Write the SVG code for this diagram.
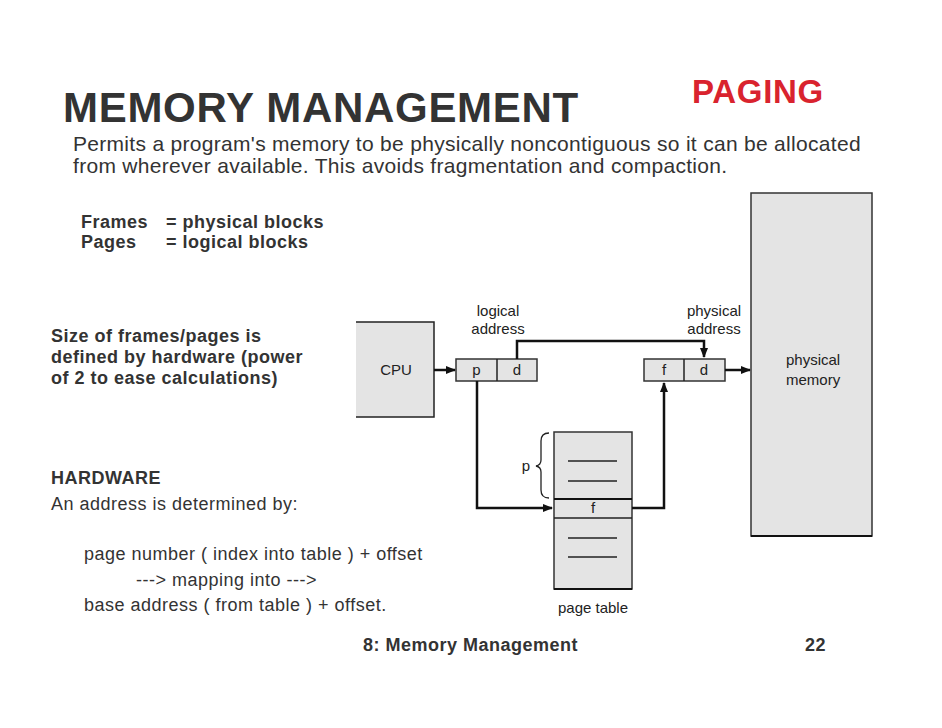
<svg xmlns="http://www.w3.org/2000/svg" width="942" height="728" viewBox="0 0 942 728">
<style>
text{font-family:"Liberation Sans",Arial,sans-serif;fill:#333}
.b{font-weight:bold}
.body{font-size:21px;letter-spacing:0.3px}
.s18{font-size:18px;letter-spacing:0.5px}
.lab{font-size:15px;fill:#222}
.box{fill:#e4e4e4;stroke:#333;stroke-width:1.5}
.edge{fill:none;stroke:#111;stroke-width:2.5}
.thin{fill:none;stroke:#222;stroke-width:1.5}
</style>
<defs>
<marker id="ah" markerWidth="10" markerHeight="8" refX="9" refY="4" orient="auto" markerUnits="userSpaceOnUse">
<path d="M0,0 L10,4 L0,8 z" fill="#111"/>
</marker>
</defs>
<rect width="942" height="728" fill="#fff"/>

<g id="title">
<text x="63" y="122" class="b" style="font-size:42px;letter-spacing:0.7px">MEMORY MANAGEMENT</text>
<text x="692" y="103" class="b" style="font-size:33px;letter-spacing:0.7px;fill:#d9232e">PAGING</text>
</g>
<g id="intro">
<text x="73" y="151" class="body">Permits a program's memory to be physically noncontiguous so it can be allocated</text>
<text x="73" y="173" class="body">from wherever available. This avoids fragmentation and compaction.</text>
</g>
<g id="defs-text">
<text x="81" y="228" class="b s18">Frames</text>
<text x="166" y="228" class="b s18">= physical blocks</text>
<text x="81" y="248" class="b s18">Pages</text>
<text x="166" y="248" class="b s18">= logical blocks</text>
</g>
<g id="size-text">
<text x="51" y="342" class="b s18">Size of frames/pages is</text>
<text x="51" y="363" class="b s18">defined by hardware (power</text>
<text x="51" y="384" class="b s18">of 2 to ease calculations)</text>
</g>
<g id="hardware-text">
<text x="51" y="484" class="b s18">HARDWARE</text>
<text x="51" y="510" class="s18">An address is determined by:</text>
<text x="84" y="560" class="s18">page number ( index into table ) + offset</text>
<text x="136" y="586" class="s18">---&gt; mapping into ---&gt;</text>
<text x="84" y="611" class="s18">base address ( from table ) + offset.</text>
</g>
<g id="footer">
<text x="363" y="651" class="b s18">8: Memory Management</text>
<text x="826" y="651" class="b s18" text-anchor="end">22</text>
</g>

<g id="cpu">
<rect x="356" y="322" width="78" height="95" fill="#e4e4e4"/>
<path d="M356,322 H434 V417 H356" class="thin"/>
<text x="396" y="375" class="lab" text-anchor="middle">CPU</text>
</g>

<g id="logical-address">
<rect x="456" y="359" width="81" height="22" class="box"/>
<line x1="497" y1="359" x2="497" y2="381" class="thin"/>
<text x="476.5" y="375" class="lab" text-anchor="middle">p</text>
<text x="517" y="375" class="lab" text-anchor="middle">d</text>
<text x="498" y="316" class="lab" text-anchor="middle">logical</text>
<text x="498" y="334" class="lab" text-anchor="middle">address</text>
</g>

<g id="physical-address">
<rect x="644" y="359" width="81" height="22" class="box"/>
<line x1="684" y1="359" x2="684" y2="381" class="thin"/>
<text x="664" y="375" class="lab" text-anchor="middle">f</text>
<text x="704" y="375" class="lab" text-anchor="middle">d</text>
<text x="714" y="316" class="lab" text-anchor="middle">physical</text>
<text x="714" y="334" class="lab" text-anchor="middle">address</text>
</g>

<g id="physical-memory">
<rect x="751" y="193" width="121" height="343" class="box"/>
<line x1="751" y1="536" x2="872" y2="536" stroke="#111" stroke-width="2"/>
<text x="786" y="365" class="lab">physical</text>
<text x="786" y="385" class="lab">memory</text>
</g>

<g id="page-table">
<rect x="554" y="432" width="78" height="157" class="box"/>
<line x1="554" y1="589" x2="632" y2="589" stroke="#111" stroke-width="2"/>
<line x1="554" y1="499" x2="632" y2="499" stroke="#111" stroke-width="2"/>
<line x1="554" y1="518" x2="632" y2="518" class="thin"/>
<line x1="568" y1="461" x2="617" y2="461" class="thin"/>
<line x1="568" y1="481" x2="617" y2="481" class="thin"/>
<line x1="568" y1="538" x2="617" y2="538" class="thin"/>
<line x1="568" y1="557" x2="617" y2="557" class="thin"/>
<text x="593" y="513" class="lab" text-anchor="middle">f</text>
<text x="593" y="613" class="lab" text-anchor="middle">page table</text>
<text x="526" y="471" class="lab" text-anchor="middle">p</text>
<path d="M549,433 Q541,433 541,441 V460 Q541,465 536,466 Q541,467 541,472 V490 Q541,498 549,498" fill="none" stroke="#222" stroke-width="1.3"/>
</g>

<g id="connectors">
<line x1="434" y1="370" x2="455" y2="370" class="edge" marker-end="url(#ah)"/>
<polyline points="517,359 517,341 704,341 704,357" class="edge" marker-end="url(#ah)"/>
<polyline points="477,381 477,508 552,508" class="edge" marker-end="url(#ah)"/>
<polyline points="632,508 664,508 664,383" class="edge" marker-end="url(#ah)"/>
<line x1="725" y1="370" x2="750" y2="370" class="edge" marker-end="url(#ah)"/>
</g>
</svg>
